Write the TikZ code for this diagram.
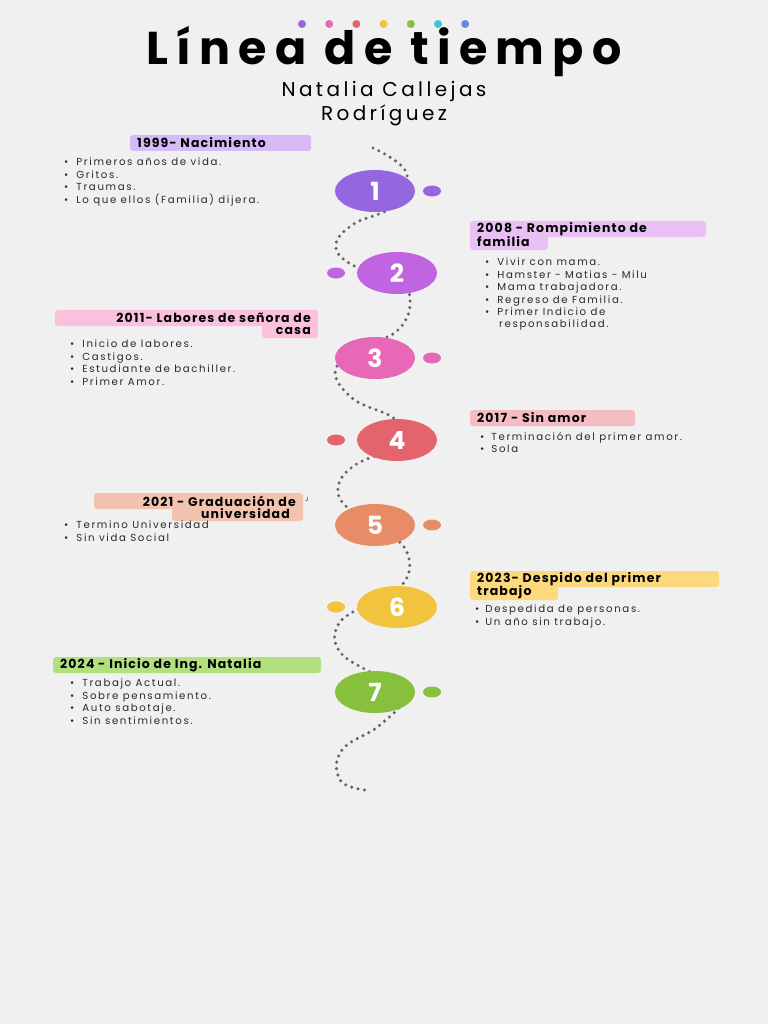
\documentclass[tikz,border=0pt]{standalone}
\usepackage{fontspec}
\setmainfont{Poppins}
\newfontfamily\headf[LetterSpace=9]{Poppins}
\newfontfamily\bodyf[LetterSpace=16]{Poppins}
\newfontfamily\titlef[LetterSpace=18]{Poppins}
\newfontfamily\subf[LetterSpace=17]{Poppins}
\usetikzlibrary{shapes.geometric}
\definecolor{bg}{HTML}{F0F0F0}
\definecolor{c1}{HTML}{9466E0}\definecolor{c2}{HTML}{C064E2}\definecolor{c3}{HTML}{E868B8}
\definecolor{c4}{HTML}{E4646E}\definecolor{c5}{HTML}{E88C68}\definecolor{c6}{HTML}{F2C43E}
\definecolor{c7}{HTML}{86C03C}\definecolor{c8}{HTML}{3EC6D6}\definecolor{c9}{HTML}{6488E4}
\definecolor{h1}{HTML}{D6BBF8}\definecolor{h2}{HTML}{E8C0F4}\definecolor{h3}{HTML}{FBC0DC}
\definecolor{h4}{HTML}{F6BCC4}\definecolor{h5}{HTML}{F2C4B0}\definecolor{h6}{HTML}{FCD97C}
\definecolor{h7}{HTML}{B3E07E}\definecolor{txt}{HTML}{2A2A2A}\definecolor{dotc}{HTML}{666666}
\tikzset{
 big/.style={ellipse,minimum width=80pt,minimum height=42pt,inner sep=0pt,text=white,font=\bfseries\fontsize{25}{25}\selectfont},
 small/.style={ellipse,minimum width=18pt,minimum height=11pt,inner sep=0pt},
 tdot/.style={circle,minimum size=8pt,inner sep=0pt},
 hbox/.style={rounded corners=3pt},
 head/.style={font=\headf\bfseries\fontsize{12.5}{12.5}\selectfont,inner sep=0pt,text=black},
 item/.style={font=\bodyf\fontsize{10.2}{12.4}\selectfont,text=txt,inner sep=0pt,anchor=north west,align=left},
 wave/.style={draw=dotc,line width=3.4pt,line cap=round,dash pattern=on 0pt off 6.5pt}
}
\begin{document}
\begin{tikzpicture}[x=1pt,y=-1pt]
\fill[bg] (0,0) rectangle (768,1024);
\useasboundingbox (0,0) rectangle (768,1024);
\foreach \c [count=\i] in {c1,c3,c4,c6,c7,c8,c9}
  \node[tdot,fill=\c] (td\i) at ({302+27.2*(\i-1)},24) {};
\node[font=\titlef\bfseries\fontsize{46}{46}\selectfont] (title) at (384,52) {Línea de tiempo};
\node[font=\subf\fontsize{20}{24}\selectfont,align=center] (sub) at (384,104) {Natalia Callejas\\Rodríguez};
\draw[wave] plot[smooth,tension=0.7] coordinates {(373,148)(406,172)(395,205)(352,225)(336,248)(358,268)(400,282)(410,305)(398,330)(370,345)(336,368)(352,398)(396,420)(398,445)(355,465)(338,488)(350,510)(385,530)(408,555)(402,585)(365,605)(338,625)(340,652)(375,675)(405,695)(380,725)(342,750)(340,780)(365,790)};
\foreach \n/\x/\y/\sx in {1/375/191/432,2/397/273/336,3/375/358/432,4/397/440/336,5/375/525/432,6/397/607/336,7/375/692/432}{
  \node[small,fill=c\n] (s\n) at (\sx,\y) {};
  \node[big,fill=c\n] (n\n) at (\x,\y) {\n};
}
% 1999
\fill[h1,hbox] (130,135) rectangle (311,151);
\node[head,anchor=west] (t1) at (137,143) {1999- Nacimiento};
\node[item] (b1) at (64,158) {\textbullet\hspace{8pt}Primeros años de vida.\\\textbullet\hspace{8pt}Gritos.\\\textbullet\hspace{8pt}Traumas.\\\textbullet\hspace{8pt}Lo que ellos (Familia) dijera.};
% 2008
\fill[h2,hbox] (470,221) rectangle (706,237);
\fill[h2,hbox] (470,233) rectangle (548,250);
\node[head,anchor=west] (t2a) at (477,229) {2008 - Rompimiento de};
\node[head,anchor=west] (t2b) at (477,242) {familia};
\node[item] (b2) at (485,258) {\textbullet\hspace{8pt}Vivir con mama.\\\textbullet\hspace{8pt}Hamster - Matias - Milu\\\textbullet\hspace{8pt}Mama trabajadora.\\\textbullet\hspace{8pt}Regreso de Familia.\\\textbullet\hspace{8pt}Primer Indicio de\\\hspace*{14pt}responsabilidad.};
% 2011
\fill[h3,hbox] (55,310) rectangle (318,326);
\fill[h3,hbox] (262,322) rectangle (318,338);
\node[head,anchor=east] (t3a) at (311,318) {2011- Labores de señora de};
\node[head,anchor=east] (t3b) at (311,331) {casa};
\node[item] (b3) at (70,340) {\textbullet\hspace{8pt}Inicio de labores.\\\textbullet\hspace{8pt}Castigos.\\\textbullet\hspace{8pt}Estudiante de bachiller.\\\textbullet\hspace{8pt}Primer Amor.};
% 2017
\fill[h4,hbox] (470,410) rectangle (635,426);
\node[head,anchor=west] (t4) at (477,418) {2017 - Sin amor};
\node[item] (b4) at (480,432) {\textbullet\hspace{7pt}Terminación del primer amor.\\\textbullet\hspace{7pt}Sola};
% 2021
\fill[h5,hbox] (94,493) rectangle (303,509);
\fill[h5,hbox] (172,505) rectangle (303,521);
\node[head,anchor=east] (t5a) at (296,501) {2021 - Graduación de};
\node[head,anchor=east] (t5b) at (290,514) {universidad};
\node[font=\fontsize{6}{6}\selectfont,text=txt] (j5) at (307,499) {J};
\node[item] (b5) at (64,521) {\textbullet\hspace{8pt}Termino Universidad\\\textbullet\hspace{8pt}Sin vida Social};
% 2023
\fill[h6,hbox] (470,571) rectangle (719,587);
\fill[h6,hbox] (470,583) rectangle (558,600);
\node[head,anchor=west] (t6a) at (477,579) {2023- Despido del primer};
\node[head,anchor=west] (t6b) at (477,592) {trabajo};
\node[item] (b6) at (475,605) {\textbullet\hspace{6pt}Despedida de personas.\\\textbullet\hspace{6pt}Un año sin trabajo.};
% 2024
\fill[h7,hbox] (53,657) rectangle (321,673);
\node[head,anchor=west] (t7) at (60,665) {2024 - Inicio de Ing. Natalia};
\node[item] (b7) at (70,679) {\textbullet\hspace{8pt}Trabajo Actual.\\\textbullet\hspace{8pt}Sobre pensamiento.\\\textbullet\hspace{8pt}Auto sabotaje.\\\textbullet\hspace{8pt}Sin sentimientos.};
\end{tikzpicture}
\end{document}
